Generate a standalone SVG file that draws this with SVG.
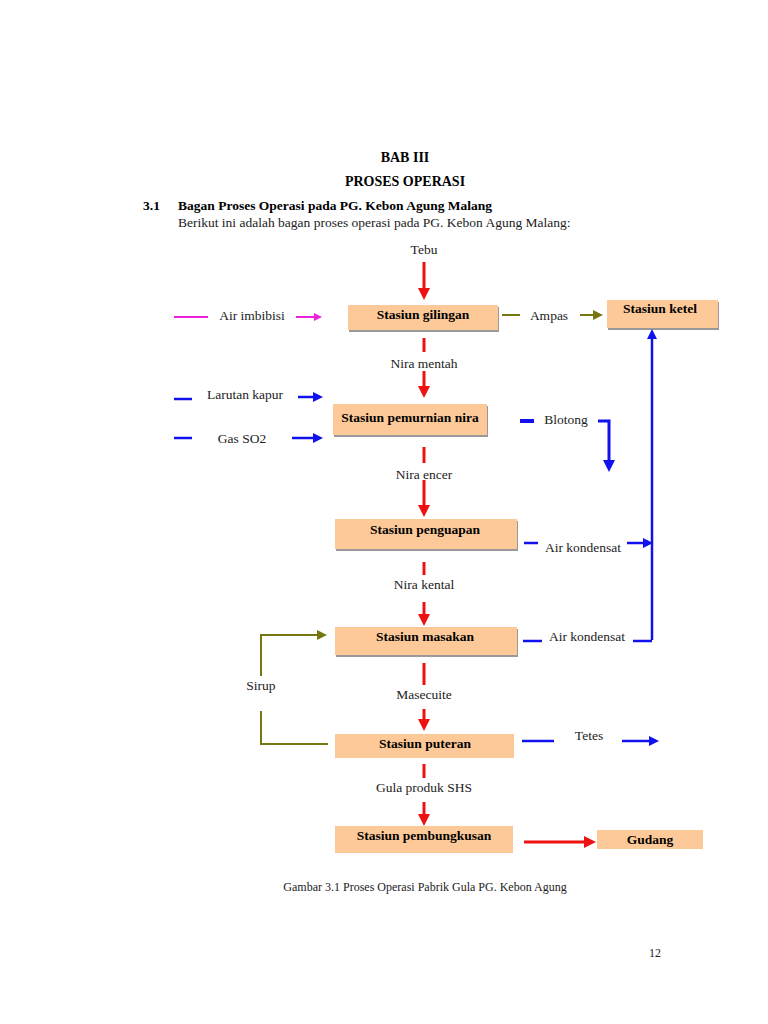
<svg xmlns="http://www.w3.org/2000/svg" width="768" height="1024" viewBox="0 0 768 1024">
<style>
text{font-family:"Liberation Serif",serif;font-size:13.5px;fill:#222}
.b{font-weight:bold;fill:#000}
.box{fill:#fdc998}
.sh{fill:#999}
.r{stroke:#ee1111;stroke-width:3;fill:none}
.bl{stroke:#1111ee;stroke-width:2.5;fill:none}
.m{stroke:#ee22dd;stroke-width:2;fill:none}
.o{stroke:#777711;stroke-width:2;fill:none}
</style>
<defs>
<marker id="ar" markerWidth="4" markerHeight="4" refX="2" refY="2" orient="auto"><path d="M0,0L4,2L0,4z" fill="#ee1111"/></marker>
<marker id="ab" markerWidth="4" markerHeight="4" refX="2" refY="2" orient="auto"><path d="M0,0L4,2L0,4z" fill="#1111ee"/></marker>
<marker id="am" markerWidth="4" markerHeight="4" refX="2" refY="2" orient="auto"><path d="M0,0L4,2L0,4z" fill="#ee22dd"/></marker>
<marker id="ao" markerWidth="5" markerHeight="5" refX="2.5" refY="2.5" orient="auto"><path d="M0,0L5,2.5L0,5z" fill="#777711"/></marker>
</defs>
<rect width="768" height="1024" fill="#fff"/>
<text x="405" y="162" text-anchor="middle" class="b" style="font-size:14px">BAB III</text>
<text x="405" y="186" text-anchor="middle" class="b" style="font-size:14px">PROSES OPERASI</text>
<text x="143" y="210" class="b">3.1</text>
<text x="178" y="210" class="b">Bagan Proses Operasi pada PG. Kebon Agung Malang</text>
<text x="178" y="227">Berikut ini adalah bagan proses operasi pada PG. Kebon Agung Malang:</text>

<g id="n-gilingan"><rect x="349" y="307" width="150" height="25" class="sh"/><rect x="348" y="305" width="150" height="25" class="box"/><text x="423" y="319" text-anchor="middle" class="b">Stasiun gilingan</text></g>
<g id="n-ketel"><rect x="608" y="302" width="111" height="28" class="sh"/><rect x="607" y="300" width="111" height="28" class="box"/><text x="660" y="313" text-anchor="middle" class="b">Stasiun ketel</text></g>
<g id="n-pemurnian"><rect x="334" y="406" width="154" height="31" class="sh"/><rect x="333" y="404" width="154" height="31" class="box"/><text x="410" y="422" text-anchor="middle" class="b">Stasiun pemurnian nira</text></g>
<g id="n-penguapan"><rect x="336" y="521" width="182" height="30" class="sh"/><rect x="335" y="519" width="182" height="30" class="box"/><text x="425" y="534" text-anchor="middle" class="b">Stasiun penguapan</text></g>
<g id="n-masakan"><rect x="336" y="629" width="182" height="28" class="sh"/><rect x="335" y="627" width="182" height="28" class="box"/><text x="425" y="641" text-anchor="middle" class="b">Stasiun masakan</text></g>
<g id="n-puteran"><rect x="335" y="734" width="179" height="24" class="box"/><text x="425" y="748" text-anchor="middle" class="b">Stasiun puteran</text></g>
<g id="n-pembungkusan"><rect x="335" y="826" width="178" height="27" class="box"/><text x="424" y="840" text-anchor="middle" class="b">Stasiun pembungkusan</text></g>
<g id="n-gudang"><rect x="597" y="830" width="106" height="19" class="box"/><text x="650" y="844" text-anchor="middle" class="b">Gudang</text></g>

<g id="labels">
<text x="424" y="254" text-anchor="middle">Tebu</text>
<text x="424" y="368" text-anchor="middle">Nira mentah</text>
<text x="424" y="479" text-anchor="middle">Nira encer</text>
<text x="424" y="589" text-anchor="middle">Nira kental</text>
<text x="424" y="699" text-anchor="middle">Masecuite</text>
<text x="424" y="792" text-anchor="middle">Gula produk SHS</text>
<text x="252" y="320" text-anchor="middle">Air imbibisi</text>
<text x="549" y="320" text-anchor="middle">Ampas</text>
<text x="245" y="399" text-anchor="middle">Larutan kapur</text>
<text x="242" y="443" text-anchor="middle">Gas SO2</text>
<text x="566" y="424" text-anchor="middle">Blotong</text>
<text x="583" y="552" text-anchor="middle">Air kondensat</text>
<text x="587" y="641" text-anchor="middle">Air kondensat</text>
<text x="589" y="740" text-anchor="middle">Tetes</text>
<text x="261" y="690" text-anchor="middle">Sirup</text>
<text x="425" y="891" text-anchor="middle" style="font-size:12px">Gambar 3.1 Proses Operasi Pabrik Gula PG. Kebon Agung</text>
<text x="655" y="957" text-anchor="middle" style="font-size:12px">12</text>
</g>

<g id="connectors">
<path class="r" d="M424,262V294" marker-end="url(#ar)"/>
<path class="r" d="M424,338V352"/><path class="r" d="M424,371V392" marker-end="url(#ar)"/>
<path class="r" d="M424,447V463"/><path class="r" d="M424,480V511" marker-end="url(#ar)"/>
<path class="r" d="M424,562V575"/><path class="r" d="M424,602V620" marker-end="url(#ar)"/>
<path class="r" d="M424,663V685"/><path class="r" d="M424,709V725" marker-end="url(#ar)"/>
<path class="r" d="M424,764V778"/><path class="r" d="M424,802V820" marker-end="url(#ar)"/>
<path class="r" d="M524,842H590" marker-end="url(#ar)"/>
<path class="m" d="M174,317H208"/><path class="m" d="M296,317H318" marker-end="url(#am)"/>
<path class="o" d="M502,315H520"/><path class="o" d="M580,315H598" marker-end="url(#ao)"/>
<path class="bl" d="M174,399H192"/><path class="bl" d="M298,397H318" marker-end="url(#ab)"/>
<path class="bl" d="M174,438H192"/><path class="bl" d="M292,438H318" marker-end="url(#ab)"/>
<path class="bl" style="stroke-width:4" d="M520,421H534"/>
<path class="bl" style="stroke-width:3" d="M598,421H609V466" marker-end="url(#ab)"/>
<path class="bl" d="M652,640V334" marker-end="url(#ab)"/>
<path class="bl" d="M524,543H538"/><path class="bl" d="M627,543H648" marker-end="url(#ab)"/>
<path class="bl" d="M523,641H542"/><path class="bl" d="M633,641H652"/>
<path class="bl" d="M522,741H554"/><path class="bl" d="M622,741H654" marker-end="url(#ab)"/>
<path class="o" d="M261,676V635H322" marker-end="url(#ao)"/>
<path class="o" d="M261,711V744H328"/>
</g>
</svg>
